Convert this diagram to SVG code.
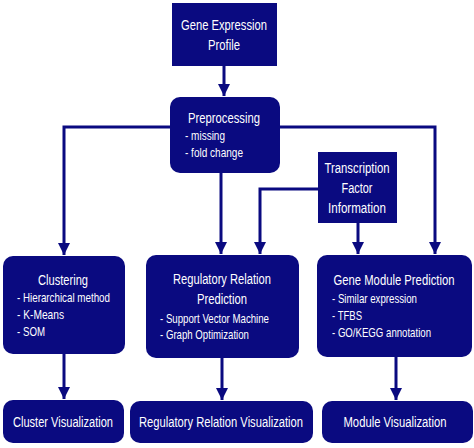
<svg xmlns="http://www.w3.org/2000/svg" width="474" height="448" viewBox="0 0 474 448">
<defs>
<marker id="ah" markerUnits="userSpaceOnUse" markerWidth="12" markerHeight="16" viewBox="0 0 12 16" refX="12" refY="6" orient="auto">
<path d="M0,0 L12,6 L0,12 Z" fill="#0a0a80"/>
</marker>
<style>
.box{fill:#0a0a80;}
.t{fill:#fff;font-family:"Liberation Sans Narrow","Liberation Sans",Arial,sans-serif;font-size:15px;}
.s{fill:#fff;font-family:"Liberation Sans Narrow","Liberation Sans",Arial,sans-serif;font-size:12.5px;}
.c{fill:none;stroke:#0a0a80;stroke-width:3;}
</style>
</defs>
<rect width="474" height="448" fill="#fff"/>
<g id="connectors">
<path class="c" d="M224,66 V96" marker-end="url(#ah)"/>
<path class="c" d="M170,127 H64 V255" marker-end="url(#ah)"/>
<path class="c" d="M280,127 H435 V254" marker-end="url(#ah)"/>
<path class="c" d="M221,173 V254" marker-end="url(#ah)"/>
<path class="c" d="M318,189 H260 V254" marker-end="url(#ah)"/>
<path class="c" d="M358,223 V254" marker-end="url(#ah)"/>
<path class="c" d="M64,354 V399" marker-end="url(#ah)"/>
<path class="c" d="M222,358 V400" marker-end="url(#ah)"/>
<path class="c" d="M396,357 V400" marker-end="url(#ah)"/>
</g>
<g id="gene-expression-profile">
<rect class="box" x="172" y="3" width="105" height="63"/>
<g transform="scale(0.8 1)">
<text class="t" x="280" y="30" text-anchor="middle" textLength="107.5" lengthAdjust="spacingAndGlyphs">Gene Expression</text>
<text class="t" x="280" y="50" text-anchor="middle" textLength="40" lengthAdjust="spacingAndGlyphs">Profile</text>
</g>
</g>
<g id="preprocessing">
<rect class="box" x="170" y="97" width="110" height="76" rx="10"/>
<g transform="scale(0.8 1)">
<text class="t" x="280" y="123" text-anchor="middle" textLength="90" lengthAdjust="spacingAndGlyphs">Preprocessing</text>
<text class="s" x="231.25" y="140" textLength="50" lengthAdjust="spacingAndGlyphs">- missing</text>
<text class="s" x="231.25" y="157" textLength="72.5" lengthAdjust="spacingAndGlyphs">- fold change</text>
</g>
</g>
<g id="transcription-factor">
<rect class="box" x="318" y="152" width="79" height="71"/>
<g transform="scale(0.8 1)">
<text class="t" x="446.25" y="173" text-anchor="middle" textLength="81.25" lengthAdjust="spacingAndGlyphs">Transcription</text>
<text class="t" x="446.25" y="193" text-anchor="middle" textLength="38.75" lengthAdjust="spacingAndGlyphs">Factor</text>
<text class="t" x="446.25" y="213" text-anchor="middle" textLength="72.5" lengthAdjust="spacingAndGlyphs">Information</text>
</g>
</g>
<g id="clustering">
<rect class="box" x="3" y="256" width="122" height="98" rx="10"/>
<g transform="scale(0.8 1)">
<text class="t" x="78.75" y="285" text-anchor="middle" textLength="62.5" lengthAdjust="spacingAndGlyphs">Clustering</text>
<text class="s" x="21.25" y="302" textLength="116.25" lengthAdjust="spacingAndGlyphs">- Hierarchical method</text>
<text class="s" x="21.25" y="319" textLength="58.75" lengthAdjust="spacingAndGlyphs">- K-Means</text>
<text class="s" x="21.25" y="336" textLength="35" lengthAdjust="spacingAndGlyphs">- SOM</text>
</g>
</g>
<g id="regulatory-relation-prediction">
<rect class="box" x="146" y="255" width="153" height="103" rx="10"/>
<g transform="scale(0.8 1)">
<text class="t" x="277.5" y="284" text-anchor="middle" textLength="122.5" lengthAdjust="spacingAndGlyphs">Regulatory Relation</text>
<text class="t" x="277.5" y="304" text-anchor="middle" textLength="62.5" lengthAdjust="spacingAndGlyphs">Prediction</text>
<text class="s" x="200" y="323" textLength="136.25" lengthAdjust="spacingAndGlyphs">- Support Vector Machine</text>
<text class="s" x="200" y="339" textLength="111.25" lengthAdjust="spacingAndGlyphs">- Graph Optimization</text>
</g>
</g>
<g id="gene-module-prediction">
<rect class="box" x="317" y="255" width="155" height="102" rx="10"/>
<g transform="scale(0.8 1)">
<text class="t" x="492.5" y="285" text-anchor="middle" textLength="151.25" lengthAdjust="spacingAndGlyphs">Gene Module Prediction</text>
<text class="s" x="415" y="303" textLength="106.25" lengthAdjust="spacingAndGlyphs">- Similar expression</text>
<text class="s" x="415" y="320" textLength="37.5" lengthAdjust="spacingAndGlyphs">- TFBS</text>
<text class="s" x="415" y="337" textLength="123.75" lengthAdjust="spacingAndGlyphs">- GO/KEGG annotation</text>
</g>
</g>
<g id="cluster-visualization">
<rect class="box" x="3" y="400" width="121" height="43" rx="10"/>
<g transform="scale(0.8 1)">
<text class="t" x="78.75" y="427" text-anchor="middle" textLength="125" lengthAdjust="spacingAndGlyphs">Cluster Visualization</text>
</g>
</g>
<g id="regulatory-relation-visualization">
<rect class="box" x="130" y="401" width="183" height="42" rx="10"/>
<g transform="scale(0.8 1)">
<text class="t" x="276.25" y="427" text-anchor="middle" textLength="205" lengthAdjust="spacingAndGlyphs">Regulatory Relation Visualization</text>
</g>
</g>
<g id="module-visualization">
<rect class="box" x="322" y="401" width="151" height="42" rx="10"/>
<g transform="scale(0.8 1)">
<text class="t" x="493.75" y="427" text-anchor="middle" textLength="128.75" lengthAdjust="spacingAndGlyphs">Module Visualization</text>
</g>
</g>
</svg>
